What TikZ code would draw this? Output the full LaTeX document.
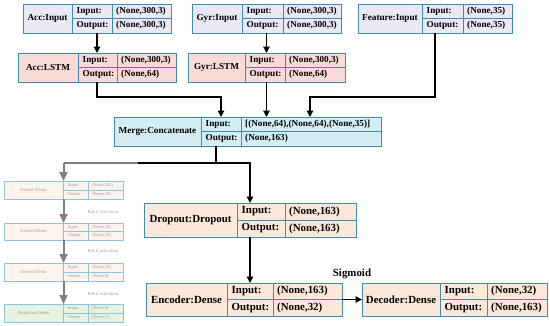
\documentclass[tikz,border=0pt]{standalone}
\usepackage{fontspec}
\setmainfont{Liberation Serif}
\usetikzlibrary{arrows.meta,calc}
\definecolor{bblue}{HTML}{3D8CBB}
\definecolor{infill}{HTML}{EAE8F3}
\definecolor{lstmfill}{HTML}{F8DAD7}
\definecolor{mergefill}{HTML}{D4EDF3}
\definecolor{peach}{HTML}{FCE8D8}
\definecolor{fadeblue}{HTML}{8FC3DA}
\definecolor{fadepeach}{HTML}{FDF4EE}
\definecolor{fadegreen}{HTML}{E8F2E0}
\definecolor{fadetext}{HTML}{9A9A9A}
\definecolor{arrgray}{HTML}{7F7F7F}
\newcommand\Lgeom[6]{\def\Lxa{#1}\def\Lya{#2}\def\Lxb{#3}\def\Lyb{#4}\def\Lda{#5}\def\Ldb{#6}}
\newcommand\Llayer[6]{%
  \node[#2, anchor=north west, inner sep=0pt, outer sep=0pt,
        minimum width={(\Lxb-\Lxa)*1pt}, minimum height={(\Lyb-\Lya)*1pt}] (#1) at (\Lxa,\Lya) {};
  \draw[#2, fill=none] (\Lda,\Lya) -- (\Lda,\Lyb) (\Ldb,\Lya) -- (\Ldb,\Lyb)
        (\Lda,{(\Lya+\Lyb)/2}) -- (\Lxb,{(\Lya+\Lyb)/2});
  \node[#3, inner sep=0pt] (#1-t) at ({(\Lxa+\Lda)/2},{(\Lya+\Lyb)/2}) {#4};
  \node[#3, inner sep=0pt, anchor=west] (#1-il) at ({\Lda+4.5},{(3*\Lya+\Lyb)/4}) {Input:};
  \node[#3, inner sep=0pt, anchor=west] (#1-ol) at ({\Lda+4.5},{(\Lya+3*\Lyb)/4}) {Output:};
  \node[#3, inner sep=0pt, anchor=west] (#1-iv) at ({\Ldb+4},{(3*\Lya+\Lyb)/4}) {#5};
  \node[#3, inner sep=0pt, anchor=west] (#1-ov) at ({\Ldb+4},{(\Lya+3*\Lyb)/4}) {#6};
}
\tikzset{
  inbox/.style={draw=bblue, line width=0.9pt, fill=infill},
  lstmbox/.style={draw=bblue, line width=0.9pt, fill=lstmfill},
  mergebox/.style={draw=bblue, line width=0.9pt, fill=mergefill},
  densebox/.style={draw=bblue, line width=0.9pt, fill=peach},
  fadebox/.style={draw=fadeblue, line width=0.8pt, fill=fadepeach},
  predbox/.style={draw=fadeblue, line width=0.8pt, fill=fadegreen},
  toptext/.style={font=\fontsize{9.2}{10}\selectfont\bfseries, text=black},
  bottext/.style={font=\fontsize{10.9}{12}\selectfont\bfseries, text=black},
  fadetxt/.style={font=\fontsize{4.6}{5}\selectfont, text=fadetext},
  arr/.style={draw=black, line width=1.3pt, -{Triangle[length=6.5pt,width=6.5pt]}},
  ln/.style={draw=black, line width=1.3pt},
  garr/.style={draw=arrgray, line width=2pt, -{Triangle[length=9pt,width=8pt]}},
  gln/.style={draw=arrgray, line width=1.3pt},
}
\begin{document}
\begin{tikzpicture}[x=1pt,y=-1pt]
\useasboundingbox (0,0) rectangle (550,325);
% top inputs
\Lgeom{23}{4}{171}{33}{72}{112}
\Llayer{accin}{inbox}{toptext}{Acc:Input}{(None,300,3)}{(None,300,3)}
\Lgeom{192}{4}{341}{33}{242}{283}
\Llayer{gyrin}{inbox}{toptext}{Gyr:Input}{(None,300,3)}{(None,300,3)}
\Lgeom{358}{4}{512}{33}{422}{463}
\Llayer{featin}{inbox}{toptext}{Feature:Input}{(None,35)}{(None,35)}
% LSTMs
\Lgeom{18}{53}{176}{82}{78}{117}
\Llayer{acclstm}{lstmbox}{toptext}{Acc:LSTM}{(None,300,3)}{(None,64)}
\Lgeom{188}{53}{345}{82}{245}{285}
\Llayer{gyrlstm}{lstmbox}{toptext}{Gyr:LSTM}{(None,300,3)}{(None,64)}
% merge
\Lgeom{114}{117}{381}{146}{201}{241}
\Llayer{merge}{mergebox}{toptext}{Merge:Concatenate}{[(None,64),(None,64),(None,35)]}{(None,163)}
% dropout, encoder, decoder
\Lgeom{144}{203}{356}{237}{237}{285}
\Llayer{dropout}{densebox}{bottext}{Dropout:Dropout}{(None,163)}{(None,163)}
\Lgeom{146}{283}{342}{316}{227}{273}
\Llayer{encoder}{densebox}{bottext}{Encoder:Dense}{(None,163)}{(None,32)}
\Lgeom{362}{283}{547}{316}{440}{487}
\Llayer{decoder}{densebox}{bottext}{Decoder:Dense}{(None,32)}{(None,163)}
% faded dense stack
\Lgeom{4}{181}{123}{199}{63}{88}
\Llayer{dense1}{fadebox}{fadetxt}{Dense1:Dense}{(None,163)}{(None,32)}
\Lgeom{4}{223}{123}{240}{63}{88}
\Llayer{dense2}{fadebox}{fadetxt}{Dense2:Dense}{(None,32)}{(None,16)}
\Lgeom{4}{263}{123}{281}{63}{88}
\Llayer{dense3}{fadebox}{fadetxt}{Dense3:Dense}{(None,16)}{(None,8)}
\Lgeom{4}{304}{123}{322}{63}{88}
\Llayer{pred}{predbox}{fadetxt}{Prediction:Dense}{(None,8)}{(None,1)}
% connectors top
\draw[arr] (accin.south) -- (acclstm.north);
\draw[arr] (gyrin.south) -- (gyrlstm.north);
\coordinate (j1) at (221,97);
\draw[arr] (acclstm.south) |- (j1) -- (j1 |- merge.north);
\draw[arr] (gyrlstm.south) -- (gyrlstm.south |- merge.north);
\coordinate (j3) at (310,97);
\draw[arr] (featin.south) |- (j3) -- (j3 |- merge.north);
% merge output
\coordinate (j4) at (216,163);
\coordinate (j5) at (138,163);
\draw[ln] (merge.south -| j4) -- (j4);
\draw[arr] (j5) -| (dropout.north);
\draw[gln] (j5) -- (dense1.north |- j5);
\draw[garr] (dense1.north |- j5) -- (dense1.north);
\draw[arr] (dropout.south) -- (dropout.south |- encoder.north);
\draw[arr] (encoder.east) -- (decoder.west);
\node[bottext, inner sep=0pt] (sig) at (352,274) {Sigmoid};
% faded arrows
\draw[garr] (dense1.south) -- (dense2.north);
\draw[garr] (dense2.south) -- (dense3.north);
\draw[garr] (dense3.south) -- (pred.north);
\node[fadetxt, inner sep=0pt] (relu1) at (103,212) {ReLU activation};
\node[fadetxt, inner sep=0pt] (relu2) at (103,251) {ReLU activation};
\node[fadetxt, inner sep=0pt] (relu3) at (103,294) {ReLU activation};
\end{tikzpicture}
\end{document}
